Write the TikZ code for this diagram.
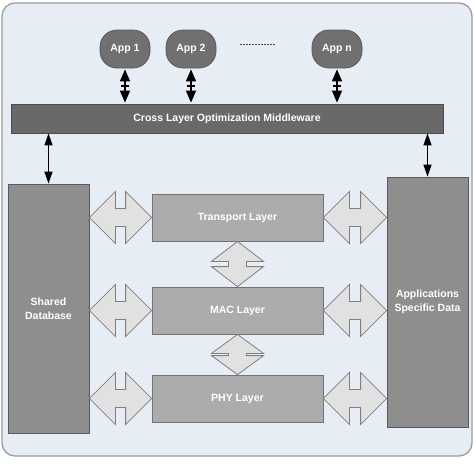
\documentclass[tikz,border=0pt]{standalone}
\usepackage{fontspec}
\setmainfont{Liberation Sans}
\usetikzlibrary{calc,arrows.meta}
\definecolor{bgc}{HTML}{E7EDF5}
\definecolor{framec}{HTML}{9C9EA2}
\definecolor{appc}{HTML}{707070}
\definecolor{midc}{HTML}{696969}
\definecolor{dbc}{HTML}{8E8E8E}
\definecolor{layc}{HTML}{ACACAC}
\definecolor{blkc}{HTML}{E1E1E1}
\definecolor{blkd}{HTML}{808080}
\tikzset{
  lbl/.style={text=white,font=\bfseries\fontsize{10.5}{12.5}\selectfont,align=center,inner sep=0pt},
  appnode/.style={lbl,draw=black!65,fill=appc,minimum width=50pt,minimum height=38pt,rounded corners=17pt,line width=0.8pt},
  midnode/.style={lbl,draw=black!70,fill=midc,minimum width=432pt,minimum height=29pt,line width=0.8pt},
  sidenode/.style={lbl,draw=black!65,fill=dbc,minimum width=81pt,line width=0.8pt},
  laynode/.style={lbl,draw=black!55,fill=layc,minimum width=171pt,minimum height=47pt,line width=0.8pt},
  blockarrow/.style={draw=blkd,fill=blkc,line width=0.8pt,line join=miter},
  apparrow/.style={line width=1.6pt,{Triangle[length=12pt,width=10pt]}-{Triangle[length=12pt,width=10pt]},shorten <=1pt,shorten >=1pt},
  sidearrow/.style={line width=1.3pt,{Triangle[length=12pt,width=8pt]}-{Triangle[length=12pt,width=8pt]}}
}
\newcommand{\blkarr}[3]{%
  \draw[blockarrow] (#1)
    -- ($(#1)!#3!(#2)!26pt!90:(#2)$)
    -- ($(#1)!#3!(#2)!9pt!90:(#2)$)
    -- ($(#2)!#3!(#1)!9pt!-90:(#1)$)
    -- ($(#2)!#3!(#1)!26pt!-90:(#1)$)
    -- (#2)
    -- ($(#2)!#3!(#1)!26pt!90:(#1)$)
    -- ($(#2)!#3!(#1)!9pt!90:(#1)$)
    -- ($(#1)!#3!(#2)!9pt!-90:(#2)$)
    -- ($(#1)!#3!(#2)!26pt!-90:(#2)$)
    -- cycle;}
\begin{document}
\begin{tikzpicture}[x=1pt,y=-1pt]
\useasboundingbox[fill=white] (0,0) rectangle (474,474);
\draw[fill=bgc,draw=framec,line width=1.3pt,rounded corners=13pt] (2,3) rectangle (472,456);

% apps
\node[appnode] (app1) at (125,49) {App 1};
\node[appnode] (app2) at (191,49) {App 2};
\node[appnode] (appn) at (337,49) {App n};
\coordinate (dsA) at (240,44);
\coordinate (dsB) at (276,44);
\draw[black!70,line width=0.7pt,dash pattern=on 2pt off 1pt] (dsA) -- (dsB);

% middleware
\node[midnode] (mid) at (227,118.5) {Cross Layer Optimization Middleware};

% side blocks
\node[sidenode,minimum height=249pt] (db) at (48.5,308.5) {Shared\\[1pt]Database};
\node[sidenode,minimum height=250pt] (ad) at (427.5,302) {Applications\\[1pt]Specific Data};

% layers
\node[laynode] (tl) at (237.5,217.5) {Transport Layer};
\node[laynode] (ml) at (237.5,310.5) {MAC Layer};
\node[laynode] (pl) at (237.5,398.5) {PHY Layer};

% app arrows
\foreach \a in {app1,app2,appn}{
  \draw[apparrow] (\a.south) -- (\a.south |- mid.north);
  \draw[line width=1.2pt] ($(\a.south)!0.5!(\a.south |- mid.north)+(-4,0)$) -- ++(8,0);
}

% side arrows
\draw[sidearrow] (mid.south -| db.north) -- (db.north);
\draw[sidearrow] (mid.south -| ad.north) -- (ad.north);

% block arrows
\blkarr{tl.west -| db.east}{tl.west}{26pt}
\blkarr{ml.west -| db.east}{ml.west}{26pt}
\blkarr{pl.west -| db.east}{pl.west}{26pt}
\blkarr{tl.east}{tl.east -| ad.west}{26pt}
\blkarr{ml.east}{ml.east -| ad.west}{26pt}
\blkarr{pl.east}{pl.east -| ad.west}{26pt}
\blkarr{tl.south}{ml.north}{20pt}
\blkarr{ml.south}{pl.north}{19pt}
\end{tikzpicture}
\end{document}
